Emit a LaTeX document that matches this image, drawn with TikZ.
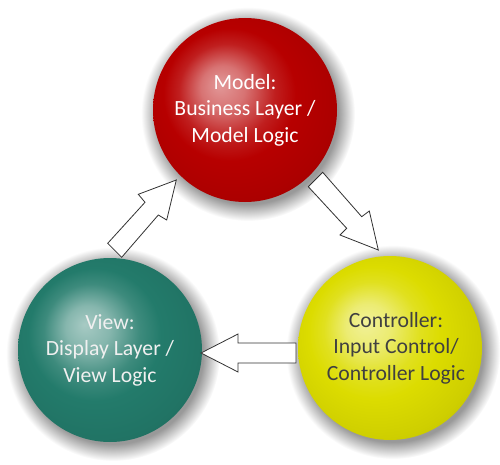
\documentclass[tikz,border=0pt]{standalone}
\usepackage{fontspec}
\setmainfont{Carlito}
\definecolor{redball}{RGB}{183,0,0}
\definecolor{greenball}{RGB}{35,123,107}
\definecolor{yellowball}{RGB}{220,220,0}
\definecolor{darktext}{RGB}{64,64,64}
\definecolor{arrowline}{RGB}{50,50,50}
\colorlet{sphcol}{redball}
\pgfdeclareradialshading[sphcol]{mysphere}{\pgfpoint{-7bp}{7bp}}{%
  color(0bp)=(sphcol!40!white);
  color(6bp)=(sphcol!55!white);
  color(13bp)=(sphcol!88!white);
  color(18bp)=(sphcol);
  color(27bp)=(sphcol!94!black);
  color(34bp)=(sphcol!86!black);
  color(45bp)=(sphcol!86!black)}
\pgfdeclareradialshading{glow}{\pgfpoint{0bp}{0bp}}{%
  color(0bp)=(black!40);
  color(21bp)=(black!40);
  color(22.5bp)=(black!25);
  color(25bp)=(white);
  color(40bp)=(white)}
\tikzset{
  sphere/.style={circle, minimum size=184pt, inner sep=0pt, align=center,
    font=\fontsize{21.7}{26.5}\selectfont, shading=mysphere},
  sphcolor/.code={\colorlet{sphcol}{#1}},
  glowdisc/.style={shading=glow},
  blockarrow/.style={draw=arrowline, line width=0.8pt, fill=white, line join=miter}
}
\begin{document}
\begin{tikzpicture}[x=1pt,y=-1pt]
\useasboundingbox (0,0) rectangle (500,465);
% soft shadows
\foreach \cx/\cy in {245/110, 110/350, 390/348}{
  \shade[glowdisc] (\cx+3,\cy+4) circle (107);
}
% spheres
\node[sphere, sphcolor=redball, text=white] (m) at (245,110) {Model:\\Business Layer /\\Model Logic};
\node[sphere, sphcolor=greenball, text=white!94!black] (v) at (110,350) {View:\\Display Layer /\\View Logic};
\node[sphere, sphcolor=yellowball, text=darktext] (c) at (390,348) {\hspace*{12pt}Controller:\\\hspace*{12pt}Input Control/\\\hspace*{12pt}Controller Logic};
% arrow: View -> Model
\coordinate (a1tip) at (176.3,180);
\draw[blockarrow] (a1tip) -- (138.3,194.3) -- (145,202.3) -- (107.7,243.3) -- (121.7,257.3) -- (158.3,215) -- (166.7,220) -- cycle;
% arrow: Model -> Controller
\coordinate (a2tip) at (378.3,250);
\draw[blockarrow] (a2tip) -- (340,235) -- (346.7,228.3) -- (308.3,186.7) -- (322.7,172.3) -- (361.7,216.7) -- (369.3,211) -- cycle;
% arrow: Controller -> View
\coordinate (a3tip) at (201,353);
\draw[blockarrow] (a3tip) -- (238,334) -- (238,343) -- (296,343) -- (296,363) -- (238,363) -- (238,372) -- cycle;
\end{tikzpicture}
\end{document}
